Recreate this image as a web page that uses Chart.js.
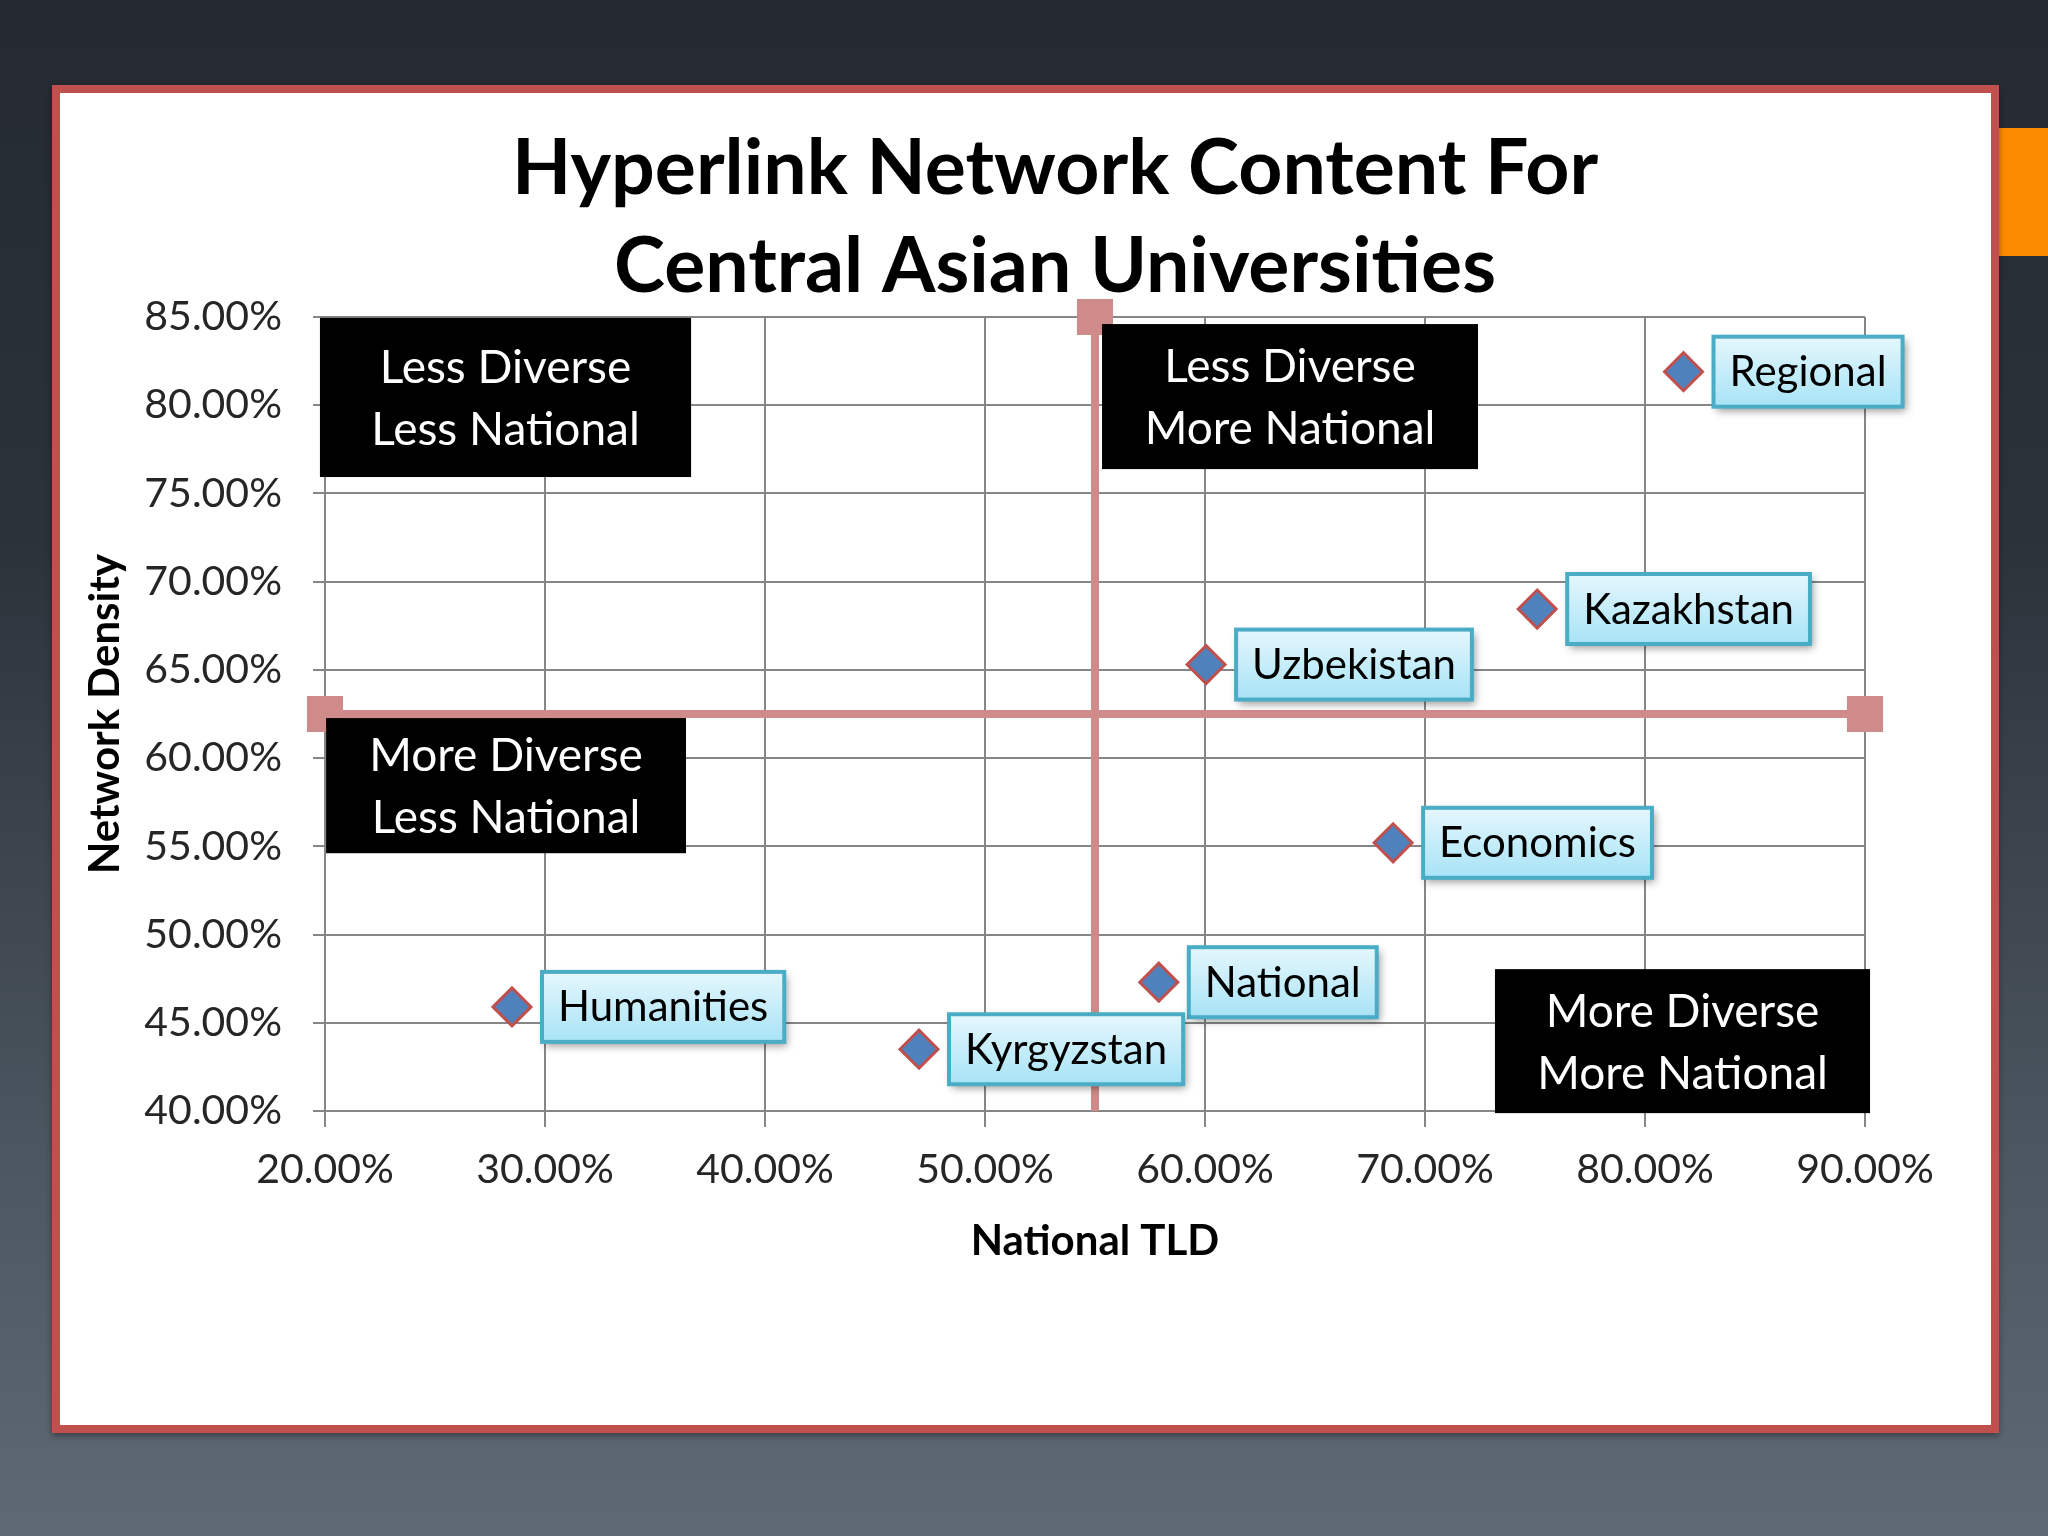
<!DOCTYPE html>
<html>
<head>
<meta charset="utf-8">
<title>Hyperlink Network Content For Central Asian Universities</title>
<script src="https://cdn.jsdelivr.net/npm/chart.js@4.4.0/dist/chart.umd.min.js"></script>
<style>
    html, body { margin: 0; padding: 0; }
    body {
        width: 2048px; height: 1536px; position: relative; overflow: hidden;
        background: linear-gradient(to bottom, #242a30 0%, #2b323a 35%, #4c5660 75%, #5f6973 100%);
    }
    #accent { position: absolute; left: 1999px; top: 128px; width: 49px; height: 128px; background: #fb8a00; }
    #frame {
        position: absolute; left: 52px; top: 85px; width: 1947px; height: 1348px;
        box-sizing: border-box; border: 8px solid #c0504d; background: #fff;
        box-shadow: 0 3px 6px rgba(0, 0, 0, 0.35);
    }
    #chart-wrap { position: relative; width: 1931px; height: 1332px; }
</style>
</head>
<body>
<div id="accent"></div>
<div id="frame">
    <div id="chart-wrap"><canvas id="quadrantChart"></canvas></div>
</div>
<script>
// data (percent units)
const names = ['Regional', 'Kazakhstan', 'Uzbekistan', 'Economics', 'National', 'Humanities', 'Kyrgyzstan'];
const nationalTLD = [81.75, 75.1, 60.05, 68.55, 57.9, 28.5, 47.0];
const networkDensity = [81.9, 68.45, 65.3, 55.2, 47.3, 45.9, 43.5];
const xTickValues = [20, 30, 40, 50, 60, 70, 80, 90];
const yTickValues = [40, 45, 50, 55, 60, 65, 70, 75, 80, 85];
const splitX = 55;
const splitY = 62.5;
const titleLines = ['Hyperlink Network Content For', 'Central Asian Universities'];
const quadrantText = [
    ['Less Diverse', 'Less National'],
    ['Less Diverse', 'More National'],
    ['More Diverse', 'Less National'],
    ['More Diverse', 'More National']
];

// where the black quadrant boxes sit, in axis units
const quadrantBoxes = [
    { x0: 19.77, x1: 36.64, y0: 84.95, y1: 75.93 },
    { x0: 55.32, x1: 72.41, y0: 84.6, y1: 76.38 },
    { x0: 20.05, x1: 36.41, y0: 62.27, y1: 54.61 },
    { x0: 73.18, x1: 90.23, y0: 48.04, y1: 39.88 }
];

const FONT = 'Lato';
const gridGrey = '#868686';
const splitColor = '#cf8b8a';

const overlayPlugin = {
    id: 'overlay',
    afterDraw(chart) {
        const ctx = chart.ctx;
        const xs = chart.scales.x;
        const ys = chart.scales.y;
        ctx.save();
        ctx.textAlign = 'center';
        ctx.textBaseline = 'middle';

        // chart title
        ctx.fillStyle = '#000';
        ctx.font = 'bold 77px ' + FONT;
        titleLines.forEach((line, i) => ctx.fillText(line, 995, 76 + i * 98));

        // quadrant boxes
        ctx.font = '46px ' + FONT;
        quadrantText.forEach((lines, i) => {
            const b = quadrantBoxes[i];
            const l = xs.getPixelForValue(b.x0), r = xs.getPixelForValue(b.x1);
            const t = ys.getPixelForValue(b.y0), bt = ys.getPixelForValue(b.y1);
            ctx.fillStyle = '#000';
            ctx.fillRect(l, t, r - l, bt - t);
            ctx.fillStyle = '#fff';
            const cx = (l + r) / 2, cy = (t + bt) / 2 + 2;
            ctx.fillText(lines[0], cx, cy - 31);
            ctx.fillText(lines[1], cx, cy + 31);
        });

        // data labels next to each diamond
        const meta = chart.getDatasetMeta(0);
        ctx.font = '42px ' + FONT;
        meta.data.forEach((pt, i) => {
            const w = ctx.measureText(names[i]).width + 32;
            const h = 70;
            const left = pt.x + 30;
            const top = pt.y - h / 2;
            ctx.save();
            ctx.shadowColor = 'rgba(0, 0, 0, 0.4)';
            ctx.shadowBlur = 8;
            ctx.shadowOffsetX = 3;
            ctx.shadowOffsetY = 4;
            const g = ctx.createLinearGradient(0, top, 0, top + h);
            g.addColorStop(0, '#e5f7fd');
            g.addColorStop(1, '#a7e3f6');
            ctx.fillStyle = g;
            ctx.fillRect(left, top, w, h);
            ctx.restore();
            ctx.strokeStyle = '#4bacc6';
            ctx.lineWidth = 4;
            ctx.strokeRect(left, top, w, h);
            ctx.fillStyle = '#000';
            ctx.fillText(names[i], left + w / 2, pt.y + 1);
        });
        ctx.restore();
    }
};

function drawChart() {
    const ctx = document.getElementById('quadrantChart').getContext('2d');
    const points = names.map((n, i) => ({ x: nationalTLD[i], y: networkDensity[i] }));

    new Chart(ctx, {
        type: 'scatter',
        data: {
            datasets: [{
                label: 'Universities',
                data: points,
                pointStyle: 'rectRot',
                pointRadius: 19,
                pointHoverRadius: 19,
                backgroundColor: '#4f81bd',
                borderColor: '#c0504d',
                borderWidth: 3,
                order: 0,
                clip: false
            }, {
                label: 'National split',
                data: [{ x: splitX, y: yTickValues[0] }, { x: splitX, y: yTickValues[yTickValues.length - 1] }],
                showLine: true,
                borderColor: splitColor,
                borderWidth: 8,
                pointStyle: 'rect',
                pointRadius: [0, 25.5],
                pointBackgroundColor: splitColor,
                pointBorderWidth: 0,
                order: 1,
                clip: false
            }, {
                label: 'Density split',
                data: [{ x: xTickValues[0], y: splitY }, { x: xTickValues[xTickValues.length - 1], y: splitY }],
                showLine: true,
                borderColor: splitColor,
                borderWidth: 8,
                pointStyle: 'rect',
                pointRadius: 25.5,
                pointBackgroundColor: splitColor,
                pointBorderWidth: 0,
                order: 1,
                clip: false
            }]
        },
        options: {
            responsive: true,
            maintainAspectRatio: false,
            animation: false,
            events: [],
            layout: { padding: { top: 224, left: 0, right: 126, bottom: 144 } },
            plugins: {
                legend: { display: false },
                tooltip: { enabled: false },
                title: { display: false }
            },
            scales: {
                x: {
                    type: 'linear',
                    min: xTickValues[0],
                    max: xTickValues[xTickValues.length - 1],
                    afterBuildTicks: s => { s.ticks = xTickValues.map(v => ({ value: v })); },
                    afterFit: s => { s.height = 170; },
                    grid: { color: gridGrey, lineWidth: 2, tickLength: 16 },
                    border: { color: gridGrey, width: 2 },
                    ticks: {
                        font: { family: FONT, size: 41 },
                        color: '#262626',
                        padding: 18,
                        autoSkip: false,
                        maxRotation: 0,
                        callback: v => v.toFixed(2) + '%'
                    },
                    title: {
                        display: true,
                        text: 'National TLD',
                        color: '#000',
                        font: { family: FONT, size: 42, weight: 'bold', lineHeight: 1.2 },
                        padding: { top: 0, bottom: 14 }
                    }
                },
                y: {
                    type: 'linear',
                    min: yTickValues[0],
                    max: yTickValues[yTickValues.length - 1],
                    afterBuildTicks: s => { s.ticks = yTickValues.map(v => ({ value: v })); },
                    afterFit: s => { s.width = 265; },
                    grid: { color: gridGrey, lineWidth: 2, tickLength: 12 },
                    border: { color: gridGrey, width: 2 },
                    ticks: {
                        font: { family: FONT, size: 41 },
                        color: '#262626',
                        padding: 31,
                        autoSkip: false,
                        callback: v => v.toFixed(2) + '%'
                    },
                    title: {
                        display: true,
                        text: 'Network Density',
                        color: '#000',
                        font: { family: FONT, size: 42, weight: 'bold', lineHeight: 1.2 },
                        padding: { top: 20, bottom: 0 }
                    }
                }
            }
        },
        plugins: [overlayPlugin]
    });
}

Promise.all([
    document.fonts.load('41px Lato'),
    document.fonts.load('bold 75px Lato')
]).then(drawChart, drawChart);
</script>
</body>
</html>
